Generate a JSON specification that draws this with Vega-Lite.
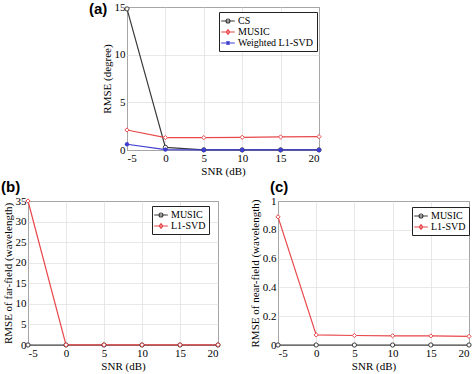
{
  "$schema": "https://vega.github.io/schema/vega-lite/v6.json",
  "padding": 0,
  "spacing": 2,
  "config": {
    "view": {"stroke": "#262626", "strokeWidth": 1},
    "axis": {
      "labelFont": "Liberation Serif", "labelFontSize": 11, "labelColor": "#000",
      "titleFont": "Liberation Serif", "titleFontSize": 11, "titleFontWeight": "normal", "titleColor": "#000",
      "domain": false, "ticks": false, "gridColor": "#dedede", "gridWidth": 0.7, "labelPadding": 2, "titlePadding": 2
    },
    "title": {"font": "Liberation Sans", "fontSize": 15, "fontWeight": "bold", "anchor": "start", "frame": "group", "color": "#000", "baseline": "bottom"},
    "legend": {
      "orient": "none", "title": null, "strokeColor": "#222", "fillColor": "white", "padding": 3,
      "labelFont": "Liberation Serif", "labelFontSize": 10, "labelColor": "#000", "labelOffset": 4,
      "symbolSize": 110, "symbolStrokeWidth": 1.1, "rowPadding": 0, "cornerRadius": 0
    }
  },
  "vconcat": [
    {
      "spacing": 59,
      "resolve": {"scale": {"color": "independent"}, "legend": {"color": "independent"}},
      "hconcat": [
        {
          "width": 1, "height": 1,
          "view": {"stroke": null},
          "data": {"values": [{"t": ""}]},
          "mark": {"type": "text"},
          "encoding": {"text": {"field": "t"}}
        },
        {
          "width": 192, "height": 143,
          "title": {"text": "(a)", "dx": -38, "offset": -16},
          "data": {"values": [
            {"snr": -5, "rmse": 14.8, "series": "CS"},
            {"snr": 0, "rmse": 0.28, "series": "CS"},
            {"snr": 5, "rmse": 0.02, "series": "CS"},
            {"snr": 10, "rmse": 0.01, "series": "CS"},
            {"snr": 15, "rmse": 0.01, "series": "CS"},
            {"snr": 20, "rmse": 0.01, "series": "CS"},
            {"snr": -5, "rmse": 2.1, "series": "MUSIC"},
            {"snr": 0, "rmse": 1.3, "series": "MUSIC"},
            {"snr": 5, "rmse": 1.3, "series": "MUSIC"},
            {"snr": 10, "rmse": 1.33, "series": "MUSIC"},
            {"snr": 15, "rmse": 1.37, "series": "MUSIC"},
            {"snr": 20, "rmse": 1.4, "series": "MUSIC"},
            {"snr": -5, "rmse": 0.6, "series": "Weighted L1-SVD"},
            {"snr": 0, "rmse": 0.04, "series": "Weighted L1-SVD"},
            {"snr": 5, "rmse": 0.01, "series": "Weighted L1-SVD"},
            {"snr": 10, "rmse": 0.01, "series": "Weighted L1-SVD"},
            {"snr": 15, "rmse": 0.01, "series": "Weighted L1-SVD"},
            {"snr": 20, "rmse": 0.01, "series": "Weighted L1-SVD"}
          ]},
          "encoding": {
            "x": {"field": "snr", "type": "quantitative", "scale": {"domain": [-5, 20], "nice": false},
                  "axis": {"values": [-5, 0, 5, 10, 15, 20], "labelExpr": "'' + datum.value", "title": "SNR (dB)"}},
            "y": {"field": "rmse", "type": "quantitative", "scale": {"domain": [0, 15], "nice": false},
                  "axis": {"values": [0, 5, 10, 15], "labelExpr": "'' + datum.value", "title": "RMSE (degree)"}},
            "color": {"field": "series", "type": "nominal",
              "scale": {"domain": ["CS", "MUSIC", "Weighted L1-SVD"], "range": ["#3a3a3a", "#e8474a", "#3c3cd2"]},
              "legend": {"legendX": 92, "legendY": 5,
                "encode": {"symbols": {"update": {"shape": {"signal": "datum.value === 'CS' ? 'M-1.3,0L1.3,0M-0.38,0A0.38,0.38,0,1,0,0.38,0A0.38,0.38,0,1,0,-0.38,0' : datum.value === 'MUSIC' ? 'M-1.3,0L1.3,0M0,-0.45L0.35,0L0,0.45L-0.35,0Z' : 'M-1.3,0L1.3,0M0,-0.4L0,0.4M-0.3,-0.3L0.3,0.3M-0.3,0.3L0.3,-0.3'"}}}}}
            }
          },
          "layer": [
            {"mark": {"type": "line", "strokeWidth": 1.2}},
            {"transform": [{"filter": "datum.series === 'CS'"}],
             "mark": {"type": "point", "shape": "circle", "filled": false, "fill": "white", "size": 18, "strokeWidth": 1, "opacity": 1}},
            {"transform": [{"filter": "datum.series === 'MUSIC'"}],
             "mark": {"type": "point", "shape": "diamond", "filled": false, "fill": "white", "size": 18, "strokeWidth": 1, "opacity": 1}},
            {"transform": [{"filter": "datum.series === 'Weighted L1-SVD'"}],
             "mark": {"type": "point", "shape": "M-1,0L1,0M0,-1L0,1M-0.7,-0.7L0.7,0.7M-0.7,0.7L0.7,-0.7", "filled": false, "size": 20, "strokeWidth": 1.2, "opacity": 1}}
          ]
        }
      ]
    },
    {
      "spacing": 25,
      "resolve": {"scale": {"color": "independent"}, "legend": {"color": "independent"}},
      "hconcat": [
        {
          "width": 190, "height": 144,
          "title": {"text": "(b)", "dx": -27, "offset": 0},
          "data": {"values": [
            {"snr": -5, "rmse": 0, "series": "MUSIC"},
            {"snr": 0, "rmse": 0, "series": "MUSIC"},
            {"snr": 5, "rmse": 0, "series": "MUSIC"},
            {"snr": 10, "rmse": 0, "series": "MUSIC"},
            {"snr": 15, "rmse": 0, "series": "MUSIC"},
            {"snr": 20, "rmse": 0, "series": "MUSIC"},
            {"snr": -5, "rmse": 35, "series": "L1-SVD"},
            {"snr": 0, "rmse": 0.05, "series": "L1-SVD"},
            {"snr": 5, "rmse": 0.05, "series": "L1-SVD"},
            {"snr": 10, "rmse": 0.05, "series": "L1-SVD"},
            {"snr": 15, "rmse": 0.05, "series": "L1-SVD"},
            {"snr": 20, "rmse": 0.05, "series": "L1-SVD"}
          ]},
          "encoding": {
            "x": {"field": "snr", "type": "quantitative", "scale": {"domain": [-5, 20], "nice": false},
                  "axis": {"values": [-5, 0, 5, 10, 15, 20], "labelExpr": "'' + datum.value", "title": "SNR (dB)"}},
            "y": {"field": "rmse", "type": "quantitative", "scale": {"domain": [0, 35], "nice": false},
                  "axis": {"values": [0, 5, 10, 15, 20, 25, 30, 35], "labelExpr": "'' + datum.value", "title": "RMSE of far-field (wavelength)"}},
            "color": {"field": "series", "type": "nominal",
              "scale": {"domain": ["MUSIC", "L1-SVD"], "range": ["#3a3a3a", "#e8474a"]},
              "legend": {"legendX": 124, "legendY": 5,
                "encode": {"symbols": {"update": {"shape": {"signal": "datum.value === 'MUSIC' ? 'M-1.3,0L1.3,0M-0.38,0A0.38,0.38,0,1,0,0.38,0A0.38,0.38,0,1,0,-0.38,0' : 'M-1.3,0L1.3,0M0,-0.45L0.35,0L0,0.45L-0.35,0Z'"}}}}}
            }
          },
          "layer": [
            {"mark": {"type": "line", "strokeWidth": 1.2}},
            {"transform": [{"filter": "datum.series === 'MUSIC'"}],
             "mark": {"type": "point", "shape": "circle", "filled": false, "fill": "white", "size": 18, "strokeWidth": 1, "opacity": 1}},
            {"transform": [{"filter": "datum.series === 'L1-SVD'"}],
             "mark": {"type": "point", "shape": "diamond", "filled": false, "fill": "white", "size": 18, "strokeWidth": 1, "opacity": 1}}
          ]
        },
        {
          "width": 191, "height": 144,
          "title": {"text": "(c)", "dx": -8, "offset": 0},
          "data": {"values": [
            {"snr": -5, "rmse": 0, "series": "MUSIC"},
            {"snr": 0, "rmse": 0, "series": "MUSIC"},
            {"snr": 5, "rmse": 0, "series": "MUSIC"},
            {"snr": 10, "rmse": 0, "series": "MUSIC"},
            {"snr": 15, "rmse": 0, "series": "MUSIC"},
            {"snr": 20, "rmse": 0, "series": "MUSIC"},
            {"snr": -5, "rmse": 0.89, "series": "L1-SVD"},
            {"snr": 0, "rmse": 0.07, "series": "L1-SVD"},
            {"snr": 5, "rmse": 0.066, "series": "L1-SVD"},
            {"snr": 10, "rmse": 0.064, "series": "L1-SVD"},
            {"snr": 15, "rmse": 0.063, "series": "L1-SVD"},
            {"snr": 20, "rmse": 0.06, "series": "L1-SVD"}
          ]},
          "encoding": {
            "x": {"field": "snr", "type": "quantitative", "scale": {"domain": [-5, 20], "nice": false},
                  "axis": {"values": [-5, 0, 5, 10, 15, 20], "labelExpr": "'' + datum.value", "title": "SNR (dB)"}},
            "y": {"field": "rmse", "type": "quantitative", "scale": {"domain": [0, 1], "nice": false},
                  "axis": {"values": [0, 0.2, 0.4, 0.6, 0.8, 1], "labelExpr": "'' + datum.value", "title": "RMSE of near-field (wavelength)"}},
            "color": {"field": "series", "type": "nominal",
              "scale": {"domain": ["MUSIC", "L1-SVD"], "range": ["#3a3a3a", "#e8474a"]},
              "legend": {"legendX": 134, "legendY": 6,
                "encode": {"symbols": {"update": {"shape": {"signal": "datum.value === 'MUSIC' ? 'M-1.3,0L1.3,0M-0.38,0A0.38,0.38,0,1,0,0.38,0A0.38,0.38,0,1,0,-0.38,0' : 'M-1.3,0L1.3,0M0,-0.45L0.35,0L0,0.45L-0.35,0Z'"}}}}}
            }
          },
          "layer": [
            {"mark": {"type": "line", "strokeWidth": 1.2}},
            {"transform": [{"filter": "datum.series === 'MUSIC'"}],
             "mark": {"type": "point", "shape": "circle", "filled": false, "fill": "white", "size": 18, "strokeWidth": 1, "opacity": 1}},
            {"transform": [{"filter": "datum.series === 'L1-SVD'"}],
             "mark": {"type": "point", "shape": "diamond", "filled": false, "fill": "white", "size": 18, "strokeWidth": 1, "opacity": 1}}
          ]
        }
      ]
    }
  ],
  "resolve": {"scale": {"color": "independent"}, "legend": {"color": "independent"}}
}
